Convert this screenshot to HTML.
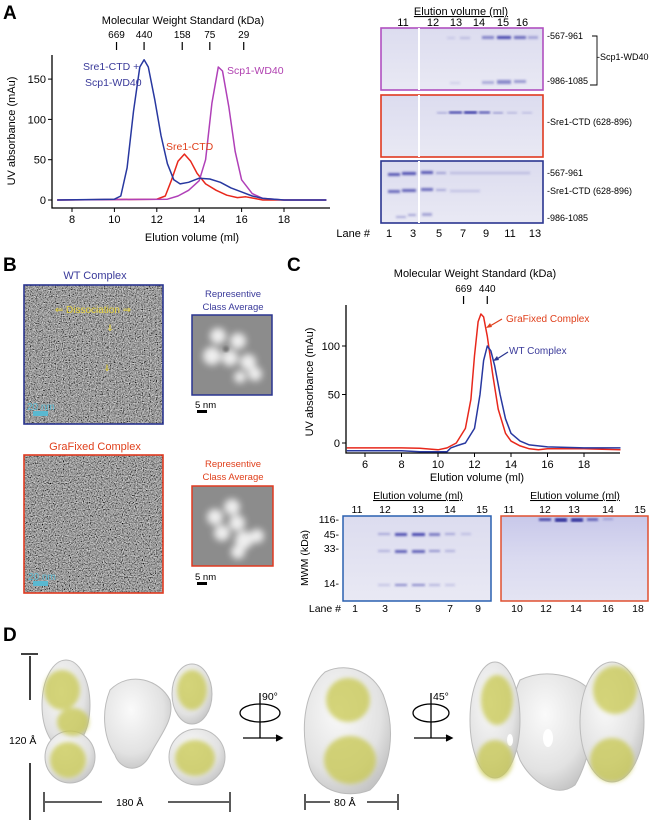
<!DOCTYPE html>
<html><head><meta charset="utf-8">
<style>
html,body{margin:0;padding:0;background:#fff;}
svg{display:block;font-family:"Liberation Sans",Arial,sans-serif;}
</style></head>
<body>
<svg id="fig" width="650" height="823" viewBox="0 0 650 823">
<defs>
  <filter id="noiseA" filterUnits="userSpaceOnUse" x="24" y="285" width="139" height="139">
    <feTurbulence type="fractalNoise" baseFrequency="0.85" numOctaves="2" seed="3"/>
    <feColorMatrix type="matrix" values="0.7 0.7 0.7 0 -0.72  0.7 0.7 0.7 0 -0.72  0.7 0.7 0.7 0 -0.72  0 0 0 0 1"/>
  </filter>
  <filter id="noiseB" filterUnits="userSpaceOnUse" x="24" y="455" width="139" height="138">
    <feTurbulence type="fractalNoise" baseFrequency="0.85" numOctaves="2" seed="9"/>
    <feColorMatrix type="matrix" values="0.7 0.7 0.7 0 -0.72  0.7 0.7 0.7 0 -0.72  0.7 0.7 0.7 0 -0.72  0 0 0 0 1"/>
  </filter>
  <filter id="blur1"><feGaussianBlur stdDeviation="1"/></filter>
  <filter id="blur3"><feGaussianBlur stdDeviation="3.5"/></filter>
  <filter id="blur2"><feGaussianBlur stdDeviation="2"/></filter>
  <linearGradient id="gelbg" x1="0" y1="0" x2="0" y2="1">
    <stop offset="0" stop-color="#dcdcef"/><stop offset="1" stop-color="#e9e9f4"/>
  </linearGradient>
  <linearGradient id="gelbg2" x1="0" y1="0" x2="0" y2="1">
    <stop offset="0" stop-color="#c8c8ea"/><stop offset="0.5" stop-color="#dadaf0"/><stop offset="1" stop-color="#e4e4f3"/>
  </linearGradient>
  <radialGradient id="shell" cx="0.4" cy="0.35" r="0.7">
    <stop offset="0" stop-color="#fafafa"/><stop offset="0.7" stop-color="#e2e2e2"/><stop offset="1" stop-color="#c4c4c4"/>
  </radialGradient>
</defs>

<!-- ============ PANEL A ============ -->
<text x="3" y="19" font-size="19" font-weight="bold">A</text>
<text x="183" y="24" font-size="11" text-anchor="middle">Molecular Weight Standard (kDa)</text>
<g id="aMW"></g>
<g id="aChart"></g>
<text x="83" y="70" font-size="10.5" fill="#3a3a9a">Sre1-CTD +</text>
<text x="85" y="86" font-size="10.5" fill="#3a3a9a">Scp1-WD40</text>
<text x="227" y="74" font-size="10.5" fill="#b040b0">Scp1-WD40</text>
<text x="166" y="150" font-size="10.5" fill="#e0401c">Sre1-CTD</text>
<text x="15" y="131" font-size="11" transform="rotate(-90 15 131)" text-anchor="middle">UV absorbance (mAu)</text>
<text x="192" y="241" font-size="11" text-anchor="middle">Elution volume (ml)</text>

<!-- Panel A gels -->
<text x="461" y="15" font-size="11" text-anchor="middle" text-decoration="underline">Elution volume (ml)</text>
<g font-size="11" text-anchor="middle">
  <text x="403" y="26">11</text><text x="433" y="26">12</text><text x="456" y="26">13</text><text x="479" y="26">14</text><text x="503" y="26">15</text><text x="522" y="26">16</text>
</g>
<g>
  <rect x="381" y="28" width="162" height="62" fill="url(#gelbg)" stroke="#b050c0" stroke-width="1.6"/>
  <g filter="url(#blur1)" fill="#3c3ca8">
    <rect x="447" y="37" width="8" height="2" opacity="0.15"/><rect x="460" y="37" width="10" height="2" opacity="0.25"/>
    <rect x="482" y="36" width="12" height="3" opacity="0.55"/><rect x="497" y="36" width="14" height="3" opacity="0.9"/>
    <rect x="514" y="36" width="12" height="3" opacity="0.7"/><rect x="528" y="36" width="10" height="3" opacity="0.35"/>
    <rect x="482" y="81" width="12" height="3" opacity="0.35"/><rect x="497" y="80" width="14" height="4" opacity="0.55"/>
    <rect x="514" y="80" width="12" height="3" opacity="0.45"/><rect x="450" y="82" width="10" height="2" opacity="0.15"/>
  </g>
  <rect x="418" y="28" width="2" height="62" fill="#fff"/>
</g>
<g>
  <rect x="381" y="95" width="162" height="62" fill="url(#gelbg)" stroke="#e03a20" stroke-width="1.6"/>
  <g filter="url(#blur1)" fill="#3c3ca8">
    <rect x="437" y="112" width="10" height="2" opacity="0.3"/><rect x="449" y="111" width="13" height="3" opacity="0.8"/>
    <rect x="464" y="111" width="13" height="3" opacity="0.95"/><rect x="479" y="111" width="11" height="3" opacity="0.7"/>
    <rect x="493" y="112" width="10" height="2" opacity="0.4"/><rect x="507" y="112" width="10" height="2" opacity="0.25"/>
    <rect x="522" y="112" width="10" height="2" opacity="0.2"/>
  </g>
  <rect x="418" y="95" width="2" height="62" fill="#fff"/>
</g>
<g>
  <rect x="381" y="161" width="162" height="62" fill="url(#gelbg)" stroke="#2a3590" stroke-width="1.6"/>
  <g filter="url(#blur1)" fill="#3c3ca8">
    <rect x="388" y="173" width="12" height="3" opacity="0.8"/><rect x="402" y="172" width="14" height="3" opacity="0.85"/>
    <rect x="421" y="171" width="12" height="3" opacity="0.8"/><rect x="436" y="172" width="10" height="2" opacity="0.4"/>
    <rect x="450" y="172" width="80" height="2" opacity="0.25"/>
    <rect x="388" y="190" width="12" height="3" opacity="0.7"/><rect x="402" y="189" width="14" height="3" opacity="0.75"/>
    <rect x="421" y="188" width="12" height="3" opacity="0.7"/><rect x="436" y="189" width="10" height="2" opacity="0.35"/>
    <rect x="450" y="190" width="30" height="2" opacity="0.2"/>
    <rect x="396" y="216" width="10" height="2" opacity="0.35"/><rect x="408" y="214" width="8" height="2" opacity="0.4"/>
    <rect x="422" y="213" width="10" height="3" opacity="0.4"/>
  </g>
  <rect x="418" y="161" width="2" height="62" fill="#fff"/>
</g>
<g font-size="9">
  <text x="547" y="39">-567-961</text><text x="547" y="84">-986-1085</text>
  <text x="547" y="125">-Sre1-CTD (628-896)</text>
  <text x="547" y="176">-567-961</text><text x="547" y="194">-Sre1-CTD (628-896)</text><text x="547" y="221">-986-1085</text>
  <text x="597" y="60">-Scp1-WD40</text>
</g>
<path d="M592 36 H597 V85 H590" fill="none" stroke="#000" stroke-width="0.9"/>
<g font-size="11" text-anchor="middle">
  <text x="370" y="237" text-anchor="end">Lane #</text>
  <text x="389" y="237">1</text><text x="413" y="237">3</text><text x="439" y="237">5</text><text x="463" y="237">7</text><text x="486" y="237">9</text><text x="510" y="237">11</text><text x="535" y="237">13</text>
</g>

<!-- ============ PANEL B ============ -->
<text x="3" y="271" font-size="19" font-weight="bold">B</text>
<text x="95" y="279" font-size="11" fill="#3a3a9a" text-anchor="middle">WT Complex</text>
<g>
  <rect x="24" y="285" width="139" height="139" fill="#888" filter="url(#noiseA)"/>
  <rect x="24" y="285" width="139" height="139" fill="none" stroke="#2a3590" stroke-width="1.6"/>
  <text x="93" y="313" font-size="10" fill="#e6d23a" text-anchor="middle">⇐ Dissociation ⇒</text>
  <text x="110" y="331" font-size="9" fill="#e6d23a" text-anchor="middle">⇓</text>
  <text x="107" y="371" font-size="9" fill="#e6d23a" text-anchor="middle">⇓</text>
  <text x="27" y="410" font-size="10" fill="#5ab8d0">20 nm</text>
  <rect x="33" y="411" width="15" height="5" fill="#5ab8d0"/>
</g>
<text x="233" y="297" font-size="9.5" fill="#3a3a9a" text-anchor="middle">Representive</text>
<text x="233" y="310" font-size="9.5" fill="#3a3a9a" text-anchor="middle">Class Average</text>
<g>
  <rect x="192" y="315" width="80" height="80" fill="#8c8c8c"/>
  <g filter="url(#blur3)" fill="#eee">
    <circle cx="218" cy="336" r="8"/><circle cx="238" cy="341" r="8"/><circle cx="212" cy="356" r="9"/>
    <circle cx="230" cy="358" r="8"/><circle cx="248" cy="362" r="8"/><circle cx="255" cy="374" r="7"/><circle cx="240" cy="377" r="6"/>
  </g>
  <circle cx="226" cy="349" r="3" fill="#777" filter="url(#blur1)"/>
  <rect x="192" y="315" width="80" height="80" fill="none" stroke="#2a3590" stroke-width="1.5"/>
</g>
<text x="195" y="408" font-size="9.5">5 nm</text>
<rect x="197" y="410" width="10" height="3" fill="#000"/>

<text x="95" y="450" font-size="11" fill="#e0401c" text-anchor="middle">GraFixed Complex</text>
<g>
  <rect x="24" y="455" width="139" height="138" fill="#888" filter="url(#noiseB)"/>
  <rect x="24" y="455" width="139" height="138" fill="none" stroke="#e03a20" stroke-width="1.6"/>
  <text x="28" y="580" font-size="10" fill="#5ab8d0">20 nm</text>
  <rect x="33" y="581" width="15" height="5" fill="#5ab8d0"/>
</g>
<text x="233" y="467" font-size="9.5" fill="#e0401c" text-anchor="middle">Representive</text>
<text x="233" y="480" font-size="9.5" fill="#e0401c" text-anchor="middle">Class Average</text>
<g>
  <rect x="192" y="486" width="81" height="80" fill="#8c8c8c"/>
  <g filter="url(#blur3)" fill="#eee">
    <circle cx="215" cy="517" r="8"/><circle cx="232" cy="507" r="8"/><circle cx="237" cy="523" r="8"/>
    <circle cx="222" cy="533" r="8"/><circle cx="244" cy="540" r="9"/><circle cx="257" cy="536" r="7"/><circle cx="238" cy="552" r="7"/>
  </g>
  <rect x="192" y="486" width="81" height="80" fill="none" stroke="#e03a20" stroke-width="1.5"/>
</g>
<text x="195" y="580" font-size="9.5">5 nm</text>
<rect x="197" y="582" width="10" height="3" fill="#000"/>

<!-- ============ PANEL C ============ -->
<text x="287" y="271" font-size="19" font-weight="bold">C</text>
<text x="475" y="277" font-size="11" text-anchor="middle">Molecular Weight Standard (kDa)</text>
<g id="cMW"></g>
<g id="cChart"></g>
<text x="506" y="322" font-size="10" fill="#e0401c">GraFixed Complex</text>
<text x="509" y="354" font-size="10" fill="#3a3a9a">WT Complex</text>
<path d="M502 319 L490 326" stroke="#e0401c" stroke-width="1.3" fill="none"/><path d="M486 328 l4 -5 l2 4 z" fill="#e0401c"/>
<path d="M508 352 L497 359" stroke="#2a3590" stroke-width="1.3" fill="none"/><path d="M493 361 l4 -5 l2 4 z" fill="#2a3590"/>
<text x="313" y="382" font-size="11" transform="rotate(-90 313 382)" text-anchor="middle">UV absorbance (mAu)</text>
<text x="477" y="481" font-size="11" text-anchor="middle">Elution volume (ml)</text>

<!-- Panel C gels -->
<text x="418" y="499" font-size="10.5" text-anchor="middle" text-decoration="underline">Elution volume (ml)</text>
<text x="575" y="499" font-size="10.5" text-anchor="middle" text-decoration="underline">Elution volume (ml)</text>
<g font-size="10.5" text-anchor="middle">
  <text x="357" y="513">11</text><text x="385" y="513">12</text><text x="418" y="513">13</text><text x="450" y="513">14</text><text x="482" y="513">15</text>
  <text x="509" y="513">11</text><text x="545" y="513">12</text><text x="574" y="513">13</text><text x="608" y="513">14</text><text x="640" y="513">15</text>
</g>
<g>
  <rect x="343" y="516" width="148" height="85" fill="url(#gelbg)" stroke="#2a60b0" stroke-width="1.5"/>
  <g filter="url(#blur1)" fill="#3c3ca8">
    <rect x="378" y="533" width="12" height="2" opacity="0.35"/><rect x="395" y="533" width="12" height="3" opacity="0.85"/>
    <rect x="412" y="533" width="13" height="3" opacity="0.9"/><rect x="429" y="533" width="11" height="3" opacity="0.6"/>
    <rect x="445" y="533" width="10" height="2" opacity="0.35"/><rect x="461" y="533" width="10" height="2" opacity="0.2"/>
    <rect x="378" y="550" width="12" height="2" opacity="0.3"/><rect x="395" y="550" width="12" height="3" opacity="0.75"/>
    <rect x="412" y="550" width="13" height="3" opacity="0.75"/><rect x="429" y="550" width="11" height="2" opacity="0.5"/>
    <rect x="445" y="550" width="10" height="2" opacity="0.3"/>
    <rect x="378" y="584" width="12" height="2" opacity="0.2"/><rect x="395" y="584" width="12" height="2" opacity="0.55"/>
    <rect x="412" y="584" width="13" height="2" opacity="0.55"/><rect x="429" y="584" width="11" height="2" opacity="0.3"/>
    <rect x="445" y="584" width="10" height="2" opacity="0.2"/>
  </g>
</g>
<g>
  <rect x="501" y="516" width="147" height="85" fill="url(#gelbg2)" stroke="#e05030" stroke-width="1.5"/>
  <g filter="url(#blur1)" fill="#2a2a98">
    <rect x="539" y="518" width="12" height="3" opacity="0.8"/><rect x="555" y="518" width="12" height="4" opacity="0.95"/>
    <rect x="571" y="518" width="12" height="4" opacity="0.9"/><rect x="587" y="518" width="11" height="3" opacity="0.6"/>
    <rect x="603" y="518" width="10" height="2" opacity="0.3"/>
  </g>
</g>
<g font-size="10.5">
  <text x="339" y="523" text-anchor="end">116-</text><text x="339" y="538" text-anchor="end">45-</text>
  <text x="339" y="552" text-anchor="end">33-</text><text x="339" y="587" text-anchor="end">14-</text>
</g>
<text x="308" y="558" font-size="10.5" transform="rotate(-90 308 558)" text-anchor="middle">MWM (kDa)</text>
<g font-size="10.5" text-anchor="middle">
  <text x="341" y="612" text-anchor="end">Lane #</text>
  <text x="355" y="612">1</text><text x="385" y="612">3</text><text x="418" y="612">5</text><text x="450" y="612">7</text><text x="478" y="612">9</text>
  <text x="517" y="612">10</text><text x="546" y="612">12</text><text x="576" y="612">14</text><text x="608" y="612">16</text><text x="638" y="612">18</text>
</g>

<!-- ============ PANEL D ============ -->
<text x="3" y="641" font-size="19" font-weight="bold">D</text>
<g>
  <path d="M110 690 C130 670 160 680 170 700 C175 720 160 735 150 755 C140 775 120 770 115 755 C105 740 100 715 110 690 Z" fill="url(#shell)" stroke="#bbb"/>
  <ellipse cx="66" cy="705" rx="24" ry="45" fill="url(#shell)" stroke="#bbb"/>
  <ellipse cx="70" cy="757" rx="25" ry="26" fill="url(#shell)" stroke="#bbb"/>
  <ellipse cx="192" cy="694" rx="20" ry="30" fill="url(#shell)" stroke="#bbb"/>
  <ellipse cx="197" cy="757" rx="28" ry="28" fill="url(#shell)" stroke="#bbb"/>
  <g fill="#c8c850" opacity="0.75" filter="url(#blur2)">
    <ellipse cx="62" cy="690" rx="18" ry="20"/><ellipse cx="73" cy="722" rx="16" ry="14"/>
    <ellipse cx="68" cy="760" rx="18" ry="18"/><ellipse cx="192" cy="690" rx="15" ry="20"/><ellipse cx="195" cy="758" rx="20" ry="18"/>
  </g>
</g>
<g stroke="#000" stroke-width="1.5">
  <line x1="21" y1="654" x2="38" y2="654"/><line x1="21" y1="827" x2="38" y2="827"/>
  <line x1="30" y1="656" x2="30" y2="700"/><line x1="30" y1="763" x2="30" y2="820"/>
</g>
<text x="9" y="744" font-size="10.5">120 Å</text>
<g stroke="#000" stroke-width="1.3">
  <line x1="44" y1="792" x2="44" y2="812"/><line x1="230" y1="792" x2="230" y2="812"/>
  <line x1="45" y1="802" x2="102" y2="802"/><line x1="168" y1="802" x2="229" y2="802"/>
</g>
<text x="116" y="806" font-size="10.5">180 Å</text>
<g fill="none" stroke="#000" stroke-width="1.3">
  <ellipse cx="260" cy="713" rx="20" ry="9"/><line x1="260" y1="693" x2="260" y2="738"/>
  <line x1="243" y1="738" x2="280" y2="738"/><path d="M276 735 l6 3 l-6 3" fill="#000"/>
</g>
<text x="262" y="700" font-size="10.5">90°</text>
<g>
  <path d="M325 672 C350 660 378 675 385 700 C395 730 392 770 370 790 C345 800 312 790 308 760 C300 725 305 690 325 672 Z" fill="url(#shell)" stroke="#bbb"/>
  <g fill="#c8c850" opacity="0.75" filter="url(#blur2)">
    <ellipse cx="348" cy="700" rx="22" ry="22"/><ellipse cx="350" cy="760" rx="26" ry="24"/>
  </g>
</g>
<g stroke="#000" stroke-width="1.3">
  <line x1="305" y1="794" x2="305" y2="810"/><line x1="398" y1="794" x2="398" y2="810"/>
  <line x1="306" y1="802" x2="330" y2="802"/><line x1="367" y1="802" x2="397" y2="802"/>
</g>
<text x="334" y="806" font-size="10.5">80 Å</text>
<g fill="none" stroke="#000" stroke-width="1.3">
  <ellipse cx="431" cy="713" rx="18" ry="9"/><line x1="431" y1="693" x2="431" y2="738"/>
  <line x1="414" y1="738" x2="450" y2="738"/><path d="M446 735 l6 3 l-6 3" fill="#000"/>
</g>
<text x="433" y="700" font-size="10.5">45°</text>
<g>
  <path d="M520 680 C545 668 575 675 590 690 C600 710 590 760 575 785 C555 800 530 780 520 760 C510 735 510 700 520 680 Z" fill="url(#shell)" stroke="#bbb"/>
  <ellipse cx="495" cy="720" rx="25" ry="58" fill="url(#shell)" stroke="#bbb"/>
  <ellipse cx="612" cy="722" rx="32" ry="60" fill="url(#shell)" stroke="#bbb"/>
  <ellipse cx="548" cy="738" rx="5" ry="9" fill="#fff"/><ellipse cx="510" cy="740" rx="3" ry="6" fill="#fff"/>
  <g fill="#c8c850" opacity="0.75" filter="url(#blur2)">
    <ellipse cx="497" cy="700" rx="16" ry="25"/><ellipse cx="495" cy="760" rx="18" ry="20"/>
    <ellipse cx="615" cy="690" rx="22" ry="24"/><ellipse cx="612" cy="760" rx="22" ry="22"/>
  </g>
</g>
</svg>

<script>
// ----- Panel A data -----
const aBlueX = [7.3,10,10.3,10.6,10.9,11.2,11.4,11.6,11.9,12.2,12.5,12.8,13.1,13.5,14,14.5,15,15.5,16,16.5,17,18,20];
const aBlueY = [0,1,5,40,110,165,174,165,125,80,45,25,20,22,27,26,22,15,10,5,2,0,0];
const aRedX = [7.3,12,12.4,12.7,13,13.3,13.6,13.9,14.3,14.8,15.3,15.8,16.2,16.6,17,20];
const aRedY = [0,1,5,25,48,57,48,33,20,12,6,3,4,2,0,0];
const aPurpleX = [7.3,12.5,13,13.5,14,14.3,14.6,14.9,15.1,15.4,15.7,16,16.5,17,18,20];
const aPurpleY = [0,1,5,12,24,50,120,165,160,115,60,25,8,2,0,0];
const aXTicks = [8,10,12,14,16,18];
const aYTicks = [0,50,100,150];
const aMWLabels = ["669","440","158","75","29"];
const aMWPos = [10.1,11.4,13.2,14.5,16.1];
// ----- Panel C data -----
const cRedX = [5,8,9,10,10.5,11,11.5,11.8,12,12.2,12.35,12.5,12.7,13,13.3,13.7,14,14.5,15,15.5,16,18,20];
const cRedY = [-5,-5,-5.5,-7,-5,0,15,45,90,125,133,130,110,70,35,10,2,-3,-6,-7,-6,-6,-7];
const cBlueX = [5,8,9,10.5,10.7,11,11.5,12,12.3,12.5,12.7,12.9,13.1,13.4,13.7,14,14.5,15,16,18,20];
const cBlueY = [-8,-8,-9,-9,-5,-3,0,15,50,85,100,95,80,50,25,10,2,-2,-4,-5,-5];
const cXTicks = [6,8,10,12,14,16,18];
const cYTicks = [0,50,100];
const cMWLabels = ["669","440"];
const cMWPos = [11.4,12.7];

const NS = "http://www.w3.org/2000/svg";
function mk(tag, attrs, parent){ const e=document.createElementNS(NS,tag); for(const k in attrs) e.setAttribute(k,attrs[k]); parent.appendChild(e); return e; }

function drawChart(g, cfg){
  const xs = v => cfg.x0 + (v - cfg.xv0) * cfg.kx;
  const ys = v => cfg.y0 - v * cfg.ky;
  const ax = mk("path",{d:`M${cfg.left} ${cfg.top} V${cfg.bottom} H${cfg.right}`,fill:"none",stroke:"#000","stroke-width":1.3},g);
  
  
  cfg.yt.forEach(t=>{
    mk("line",{x1:cfg.left-4,x2:cfg.left,y1:ys(t),y2:ys(t),stroke:"#000"},g);
    const tx = mk("text",{x:cfg.left-6,y:ys(t)+4,"font-size":11,"text-anchor":"end"},g); tx.textContent=t;
    
    
  });
  cfg.xt.forEach(t=>{
    mk("line",{x1:xs(t),x2:xs(t),y1:cfg.bottom,y2:cfg.bottom+4,stroke:"#000"},g);
    const tx = mk("text",{x:xs(t),y:cfg.bottom+15,"font-size":11,"text-anchor":"middle"},g); tx.textContent=t;
    
    
  });
  cfg.series.forEach(s=>{
    const d = s.x.map((v,i)=>(i?"L":"M")+xs(v).toFixed(1)+" "+ys(s.y[i]).toFixed(1)).join(" ");
    const p = mk("path",{d:d,fill:"none",stroke:s.color,"stroke-width":1.5,"stroke-linejoin":"round"},g);
    
    
  });
  cfg.mwPos.forEach((v,i)=>{
    mk("line",{x1:xs(v),x2:xs(v),y1:cfg.mwY,y2:cfg.mwY+8,stroke:"#000","stroke-width":1.2},cfg.mwG);
    const tx = mk("text",{x:xs(v),y:cfg.mwY-4,"font-size":10,"text-anchor":"middle"},cfg.mwG); tx.textContent=cfg.mwLabels[i];
    
    
  });
}
drawChart(document.getElementById("aChart"),{
  x0:72,xv0:8,kx:21.2,y0:200,ky:0.806,left:52,right:330,top:55,bottom:208,
  xt:aXTicks,yt:aYTicks,mwPos:aMWPos,mwLabels:aMWLabels,mwY:42,mwG:document.getElementById("aMW"),
  series:[{x:aRedX,y:aRedY,color:"#e8281c",name:"sre1-ctd-line"},{x:aPurpleX,y:aPurpleY,color:"#b040b8",name:"scp1-wd40-line"},{x:aBlueX,y:aBlueY,color:"#2838a0",name:"complex-line"}]
});
drawChart(document.getElementById("cChart"),{
  x0:365,xv0:6,kx:18.25,y0:443,ky:0.97,left:346,right:620,top:305,bottom:453,
  xt:cXTicks,yt:cYTicks,mwPos:cMWPos,mwLabels:cMWLabels,mwY:296,mwG:document.getElementById("cMW"),
  series:[{x:cRedX,y:cRedY,color:"#e8281c",name:"grafixed-line"},{x:cBlueX,y:cBlueY,color:"#2838a0",name:"wt-line"}]
});
</script>
</body></html>
